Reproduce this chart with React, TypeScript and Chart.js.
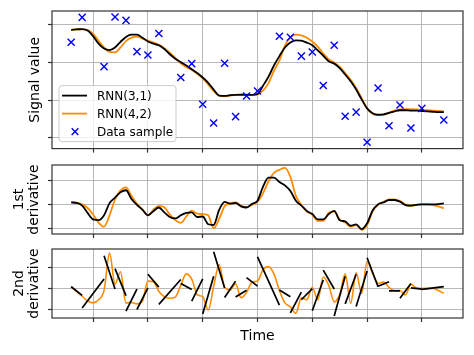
import React, { useEffect, useRef } from 'react';
import { Chart, registerables } from 'chart.js';

Chart.register(...registerables);

// ---------- data ----------
const TIME = [
  0.6, 0.7, 0.8, 0.9, 1.0, 1.1, 1.2, 1.3, 1.4, 1.5,
  1.6, 1.7, 1.8, 1.9, 2.0, 2.1, 2.2, 2.3, 2.4, 2.5,
  2.6, 2.7, 2.8, 2.9, 3.0, 3.1, 3.2, 3.3, 3.4, 3.5,
  3.6, 3.7, 3.8, 3.9, 4.0, 4.1, 4.2, 4.3, 4.4, 4.5,
  4.6, 4.7, 4.8, 4.9, 5.0, 5.1, 5.2, 5.3, 5.4, 5.5,
  5.6, 5.7, 5.8, 5.9, 6.0, 6.1, 6.2, 6.3, 6.4, 6.5,
  6.6, 6.7, 6.8, 6.9, 7.0, 7.1, 7.2, 7.3, 7.4,
];

const SIGNAL_RNN31 = [
  2.87, 2.88, 2.89, 2.85, 2.70, 2.50, 2.37, 2.33, 2.40, 2.55,
  2.68, 2.74, 2.74, 2.66, 2.56, 2.50, 2.46, 2.36, 2.22, 2.10,
  2.01, 1.92, 1.82, 1.72, 1.60, 1.46, 1.28, 1.12, 1.11, 1.13,
  1.14, 1.14, 1.14, 1.14, 1.16, 1.38, 1.62, 1.92, 2.17, 2.40,
  2.53, 2.59, 2.58, 2.53, 2.46, 2.32, 2.18, 2.03, 1.97, 1.85,
  1.68, 1.50, 1.28, 1.02, 0.78, 0.65, 0.61, 0.62, 0.66, 0.70,
  0.73, 0.73, 0.72, 0.72, 0.71, 0.70, 0.69, 0.68, 0.68,
];

const SIGNAL_RNN42 = [
  2.87, 2.88, 2.88, 2.86, 2.76, 2.58, 2.40, 2.28, 2.27, 2.40,
  2.57, 2.66, 2.69, 2.64, 2.58, 2.53, 2.47, 2.38, 2.26, 2.12,
  1.98, 1.88, 1.80, 1.70, 1.58, 1.42, 1.24, 1.12, 1.10, 1.12,
  1.14, 1.16, 1.15, 1.14, 1.15, 1.25, 1.45, 1.78, 2.05, 2.45,
  2.66, 2.74, 2.72, 2.66, 2.56, 2.42, 2.24, 2.08, 2.00, 1.88,
  1.72, 1.54, 1.32, 1.05, 0.78, 0.64, 0.60, 0.61, 0.66, 0.72,
  0.75, 0.76, 0.76, 0.75, 0.74, 0.73, 0.72, 0.71, 0.70,
];

const SAMPLE_TIME = [
  0.6, 0.8, 1.2, 1.4, 1.6, 1.8, 2.0, 2.2, 2.6, 2.8,
  3.0, 3.2, 3.4, 3.6, 3.8, 4.0, 4.4, 4.6, 4.8, 5.0,
  5.2, 5.4, 5.6, 5.8, 6.0, 6.2, 6.4, 6.6, 6.8, 7.0, 7.4,
];

const SAMPLE_VALUE = [
  2.54, 3.20, 1.89, 3.21, 3.12, 2.29, 2.20, 2.77, 1.60, 1.97,
  0.89, 0.39, 1.98, 0.56, 1.11, 1.24, 2.70, 2.67, 2.17, 2.28,
  1.39, 2.46, 0.57, 0.68, -0.12, 1.32, 0.32, 0.87, 0.26, 0.78, 0.47,
];

const D1_RNN31 = [
  0.08, 0.06, -0.05, -0.35, -0.62, -0.65, -0.45, 0.05, 0.28, 0.50,
  0.58, 0.22, -0.02, -0.22, -0.45, -0.28, -0.13, -0.33, -0.52, -0.58,
  -0.45, -0.35, -0.33, -0.52, -0.50, -0.82, -0.85, -0.23, 0.10, 0.03,
  0.06, -0.08, -0.13, 0.02, 0.15, 0.72, 1.10, 1.10, 0.92, 0.78,
  0.55, 0.15, -0.05, -0.27, -0.40, -0.62, -0.62, -0.40, -0.27, -0.65,
  -0.70, -0.88, -0.82, -1.02, -0.78, -0.25, 0.00, 0.08, 0.18, 0.18,
  0.11, -0.03, -0.05, -0.02, 0.00, 0.00, 0.00, 0.01, 0.04,
];

const D1_RNN42 = [
  0.08, 0.07, 0.00, -0.15, -0.42, -0.75, -0.92, -0.45, 0.20, 0.58,
  0.70, 0.35, 0.02, -0.22, -0.45, -0.22, -0.06, -0.12, -0.42, -0.65,
  -0.76, -0.50, -0.26, -0.38, -0.40, -0.45, -0.98, -0.60, -0.08, 0.04,
  0.08, -0.06, -0.12, -0.02, 0.10, 0.45, 0.95, 1.30, 1.42, 1.50,
  1.13, 0.35, -0.02, -0.30, -0.42, -0.68, -0.68, -0.35, -0.30, -0.62,
  -0.75, -0.92, -0.85, -1.05, -0.85, -0.30, -0.02, 0.10, 0.20, 0.20,
  0.14, 0.00, -0.06, -0.02, 0.00, 0.00, -0.03, -0.08, -0.16,
];

const D2_RNN42 = [
  0.08, -0.15, -0.38, -0.60, -0.70, -0.55, -0.10, 1.70, 0.20, 0.80,
  -0.70, -0.68, -0.75, -0.62, 0.35, 0.32, -0.15, -0.40, -0.48, -0.42,
  0.15, 0.70, 0.45, -0.30, -0.40, -1.05, 0.10, 1.15, 0.05, -0.08,
  0.22, -0.45, -0.20, 0.30, 0.35, 0.90, 1.05, 0.70, -0.10, -0.70,
  -0.89, -1.20, -0.45, -0.55, 0.05, -0.55, 0.55, 0.15, -0.65, -0.30,
  0.70, -0.72, 0.75, -0.25, 1.30, 0.72, 0.24, 0.30, 0.05, -0.10,
  -0.10, -0.32, 0.20, 0.02, 0.00, 0.00, 0.00, -0.10, -0.24,
];

// RNN(3,1) second derivative: one straight piece per interval between samples
const D2_SEG_START = [
  0.08, -0.95, 1.57, 0.95, -1.10, -1.02, 0.68, -0.77, 0.24, -0.62,
  -1.24, 1.77, -0.44, -0.42, 0.52, 1.52, -0.08, -1.18, -0.55, -1.08,
  0.88, -1.33, -0.75, -0.87, 1.48, 0.10, -0.12, -0.48, 0.02, -0.05,
];
const D2_SEG_END = [
  -0.34, 0.45, -0.03, -0.35, -0.04, 0.02, 0.06, 0.43, -0.05, 0.46,
  0.59, 0.02, 0.35, -0.09, 0.11, -0.81, -0.40, -0.18, -0.01, 0.40,
  -0.03, 0.58, 0.68, 0.84, 0.08, 0.32, -0.12, 0.24, -0.04, 0.08,
];

const X_TICKS = [1, 2, 3, 4, 5, 6, 7];
const Y_TICKS_SIGNAL = [0, 1, 2, 3];
const Y_TICKS_DERIV = [-1, 0, 1];
const SERIES_LABELS = ['RNN(3,1)', 'RNN(4,2)', 'Data sample'];
const TITLE_SIGNAL = 'Signal value';
const TITLE_D1 = ['1st', 'derivative'];
const TITLE_D2 = ['2nd', 'derivative'];
const TITLE_X = 'Time';

// ---------- style ----------
const FONT = "'DejaVu Sans', 'Noto Sans', sans-serif";
const BLACK = '#000000';
const ORANGE = '#ff8c00';
const BLUE = '#0000ff';
const GRID = '#b0b0b0';
const FRAME = '#333333';

const zip = (xs: number[], ys: number[]) => xs.map((x, i) => ({ x, y: ys[i] }));

function segmentData() {
  const out: { x: number; y: number | null }[] = [];
  for (let i = 0; i < D2_SEG_START.length; i++) {
    out.push({ x: SAMPLE_TIME[i], y: D2_SEG_START[i] });
    out.push({ x: SAMPLE_TIME[i + 1], y: D2_SEG_END[i] });
    out.push({ x: SAMPLE_TIME[i + 1], y: null });
  }
  return out;
}

const framePlugin = {
  id: 'frameBox',
  afterDatasetsDraw(chart: any) {
    const { ctx, chartArea: a } = chart;
    ctx.save();
    ctx.strokeStyle = FRAME;
    ctx.lineWidth = 1.2;
    ctx.strokeRect(a.left, a.top, a.right - a.left, a.bottom - a.top);
    ctx.restore();
  },
};

const legendPlugin = {
  id: 'insideLegend',
  afterDraw(chart: any) {
    const { ctx, chartArea: a } = chart;
    const x0 = a.left + 7;
    const y0 = a.bottom - 63;
    const w = 117;
    const h = 56;
    ctx.save();
    ctx.beginPath();
    if ((ctx as any).roundRect) (ctx as any).roundRect(x0, y0, w, h, 3);
    else ctx.rect(x0, y0, w, h);
    ctx.fillStyle = 'rgba(255,255,255,0.8)';
    ctx.fill();
    ctx.strokeStyle = '#cccccc';
    ctx.lineWidth = 1;
    ctx.stroke();
    const rows = [y0 + 10, y0 + 28, y0 + 46];
    // line handles
    ctx.lineWidth = 1.8;
    ctx.strokeStyle = BLACK;
    ctx.beginPath();
    ctx.moveTo(x0 + 3, rows[0]);
    ctx.lineTo(x0 + 28, rows[0]);
    ctx.stroke();
    ctx.strokeStyle = ORANGE;
    ctx.beginPath();
    ctx.moveTo(x0 + 3, rows[1]);
    ctx.lineTo(x0 + 28, rows[1]);
    ctx.stroke();
    // cross marker
    const cx = x0 + 16;
    const cy = rows[2];
    const r = 3.3;
    ctx.strokeStyle = BLUE;
    ctx.lineWidth = 1.4;
    ctx.beginPath();
    ctx.moveTo(cx - r, cy - r);
    ctx.lineTo(cx + r, cy + r);
    ctx.moveTo(cx + r, cy - r);
    ctx.lineTo(cx - r, cy + r);
    ctx.stroke();
    ctx.fillStyle = '#000';
    ctx.font = `12px ${FONT}`;
    ctx.textBaseline = 'middle';
    ctx.textAlign = 'left';
    SERIES_LABELS.forEach((t, i) => ctx.fillText(t, x0 + 38, rows[i] + 1));
    ctx.restore();
  },
};

function makeScales(opts: {
  yMin: number;
  yMax: number;
  yTicks: number[];
  yTitle: string | string[];
  yTitlePad: number;
  yLineHeight: number;
  xHeight: number;
  xTitle?: string;
}) {
  return {
    x: {
      type: 'linear',
      min: 0.25,
      max: 7.75,
      afterBuildTicks: (s: any) => {
        s.ticks = X_TICKS.map((v) => ({ value: v }));
      },
      afterFit: (s: any) => {
        s.height = opts.xHeight;
      },
      ticks: { display: false },
      grid: { color: GRID, lineWidth: 0.9, tickLength: 4, tickColor: FRAME, tickWidth: 1.2 },
      border: { display: false },
      title: opts.xTitle
        ? {
            display: true,
            text: opts.xTitle,
            color: '#000',
            font: { family: FONT, size: 14, lineHeight: 1.2 },
            padding: { top: 0, bottom: 10.6 },
          }
        : { display: false },
    },
    y: {
      type: 'linear',
      min: opts.yMin,
      max: opts.yMax,
      afterBuildTicks: (s: any) => {
        s.ticks = opts.yTicks.map((v) => ({ value: v }));
      },
      afterFit: (s: any) => {
        s.width = 52;
      },
      ticks: { display: false },
      grid: { color: GRID, lineWidth: 0.9, tickLength: 4, tickColor: FRAME, tickWidth: 1.2 },
      border: { display: false },
      title: {
        display: true,
        text: opts.yTitle,
        color: '#000',
        font: { family: FONT, size: 14, lineHeight: opts.yLineHeight },
        padding: { top: opts.yTitlePad, bottom: 0 },
      },
    },
  };
}

const baseOptions = (scales: any, padTop: number) => ({
  responsive: false,
  maintainAspectRatio: false,
  animation: false,
  events: [],
  layout: { padding: { top: padTop, right: 11, bottom: 0, left: 0 } },
  plugins: { legend: { display: false }, tooltip: { enabled: false } },
  scales,
});

const lineDs = (label: string, data: any, color: string, width = 1.8, smooth = true) => ({
  label,
  data,
  borderColor: color,
  backgroundColor: color,
  borderWidth: width,
  pointRadius: 0,
  fill: false,
  spanGaps: false,
  cubicInterpolationMode: smooth ? 'monotone' : 'default',
  tension: smooth ? 0.4 : 0,
});

export default function App() {
  const c1 = useRef<HTMLCanvasElement>(null);
  const c2 = useRef<HTMLCanvasElement>(null);
  const c3 = useRef<HTMLCanvasElement>(null);

  useEffect(() => {
    const charts: Chart[] = [];
    charts.push(
      new Chart(c1.current as HTMLCanvasElement, {
        type: 'line',
        data: {
          datasets: [
            {
              type: 'scatter',
              label: SERIES_LABELS[2],
              data: zip(SAMPLE_TIME, SAMPLE_VALUE),
              pointStyle: 'crossRot',
              pointRadius: 5,
              borderColor: BLUE,
              backgroundColor: BLUE,
              pointBorderWidth: 1.4,
              showLine: false,
            } as any,
            lineDs(SERIES_LABELS[0], zip(TIME, SIGNAL_RNN31), BLACK),
            lineDs(SERIES_LABELS[1], zip(TIME, SIGNAL_RNN42), ORANGE),
          ],
        },
        options: baseOptions(
          makeScales({
            yMin: -0.29,
            yMax: 3.37,
            yTicks: Y_TICKS_SIGNAL,
            yTitle: TITLE_SIGNAL,
            yTitlePad: 26.6,
            yLineHeight: 1.2,
            xHeight: 5,
          }),
          11
        ) as any,
        plugins: [framePlugin, legendPlugin],
      })
    );
    charts.push(
      new Chart(c2.current as HTMLCanvasElement, {
        type: 'line',
        data: {
          datasets: [
            lineDs(SERIES_LABELS[0], zip(TIME, D1_RNN31), BLACK),
            lineDs(SERIES_LABELS[1], zip(TIME, D1_RNN42), ORANGE),
          ],
        },
        options: baseOptions(
          makeScales({
            yMin: -1.22,
            yMax: 1.62,
            yTicks: Y_TICKS_DERIV,
            yTitle: TITLE_D1,
            yTitlePad: 11.3,
            yLineHeight: 1.1,
            xHeight: 10,
          }),
          10
        ) as any,
        plugins: [framePlugin],
      })
    );
    charts.push(
      new Chart(c3.current as HTMLCanvasElement, {
        type: 'line',
        data: {
          datasets: [
            lineDs(SERIES_LABELS[0], segmentData(), BLACK, 1.7, false),
            lineDs(SERIES_LABELS[1], zip(TIME, D2_RNN42), ORANGE, 1.6),
          ],
        },
        options: baseOptions(
          makeScales({
            yMin: -1.43,
            yMax: 1.9,
            yTicks: Y_TICKS_DERIV,
            yTitle: TITLE_D2,
            yTitlePad: 11.3,
            yLineHeight: 1.1,
            xHeight: 37,
            xTitle: TITLE_X,
          }),
          5
        ) as any,
        plugins: [framePlugin],
      })
    );
    return () => charts.forEach((c) => c.destroy());
  }, []);

  const cs = (top: number): React.CSSProperties => ({ position: 'absolute', left: 0, top, display: 'block' });

  return (
    <div style={{ position: 'fixed', left: 0, top: 0, width: 474, height: 355, background: '#fff', overflow: 'hidden' }}>
      <canvas ref={c1} width={474} height={155} style={cs(0)} />
      <canvas ref={c2} width={474} height={89} style={cs(155)} />
      <canvas ref={c3} width={474} height={111} style={cs(244)} />
    </div>
  );
}
